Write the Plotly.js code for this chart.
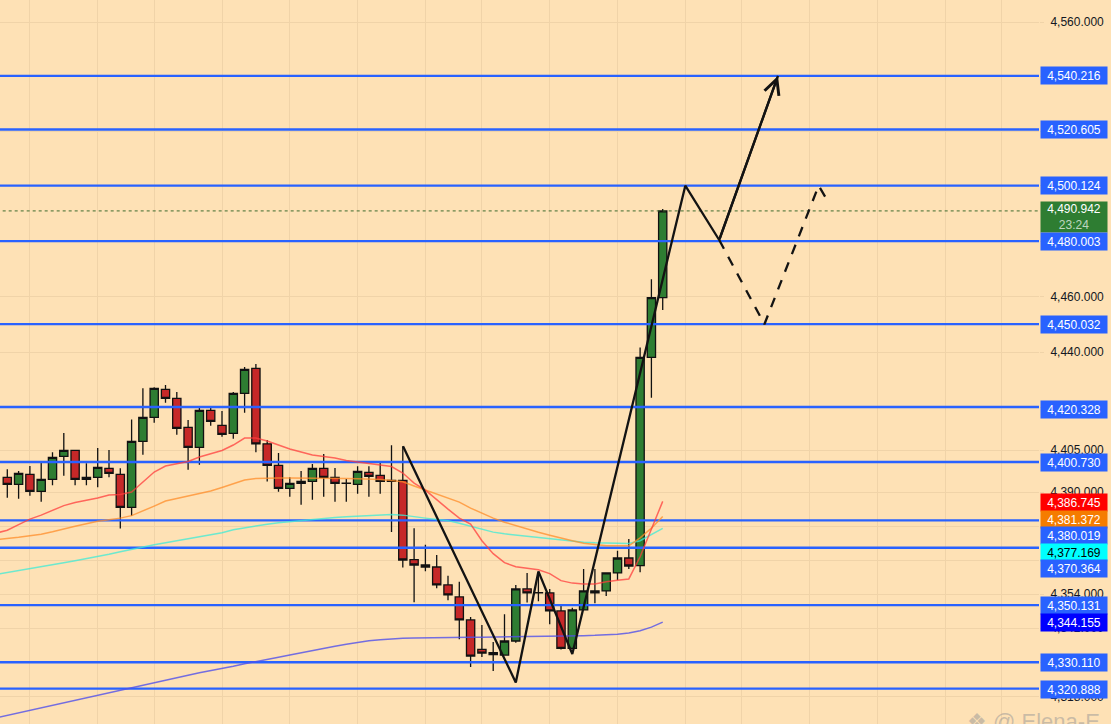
<!DOCTYPE html>
<html><head><meta charset="utf-8">
<script src="https://cdn.plot.ly/plotly-3.0.1.min.js"></script>
<style>html,body{margin:0;padding:0;background:#FEE1B5;}#chart{width:1111px;height:724px;}</style>
</head><body><div id="chart"></div>
<script>
// ---- candles (index 0..58) ----
const openP  = [4395.29,4392.80,4396.36,4390.31,4394.58,4402.76,4404.89,4394.58,4395.29,4398.49,
                4396.36,4384.62,4408.08,4416.65,4426.65,4423.44,4413.08,4405.93,4419.15,4413.79,
                4410.94,4425.22,4434.15,4407.20,4399.56,4391.38,4393.16,4393.87,4398.49,4395.29,
                4393.20,4392.80,4397.07,4396.00,4394.22,4394.22,4366.13,4364.26,4363.56,4357.23,
                4353.01,4344.93,4334.59,4333.43,4332.62,4337.54,4355.83,4354.50,4354.42,4348.09,
                4334.94,4348.44,4354.42,4355.12,4361.45,4366.73,4364.02,4438.08,4459.62];
const highP  = [4398.13,4397.53,4399.31,4401.09,4404.18,4411.04,4405.00,4400.27,4405.71,4405.00,
                4398.49,4415.91,4427.01,4427.37,4428.19,4425.69,4415.69,4420.08,4420.58,4418.90,
                4425.69,4434.62,4435.69,4408.55,4403.93,4395.29,4397.53,4400.02,4403.57,4398.60,
                4394.68,4399.20,4399.20,4400.62,4406.67,4406.31,4377.27,4371.40,4367.78,4360.50,
                4358.39,4345.98,4343.17,4337.19,4346.90,4357.23,4361.45,4361.21,4355.83,4350.20,
                4349.25,4362.86,4362.86,4361.56,4369.29,4373.41,4441.66,4466.24,4491.60];
const lowP   = [4388.04,4387.68,4388.75,4386.61,4392.44,4395.86,4392.44,4392.44,4391.73,4395.29,
                4377.15,4381.63,4403.29,4414.72,4421.87,4410.44,4397.99,4399.77,4413.65,4409.72,
                4409.01,4418.29,4404.18,4393.80,4390.17,4388.39,4385.55,4387.32,4388.39,4386.61,
                4386.61,4389.46,4388.39,4389.46,4375.94,4363.42,4351.11,4362.01,4356.04,4351.82,
                4338.11,4328.40,4331.92,4326.99,4332.62,4336.94,4351.01,4351.47,4343.38,4334.59,
                4334.94,4348.44,4350.76,4353.36,4358.99,4362.86,4361.66,4423.65,4455.13];
const closeP = [4392.80,4396.71,4390.31,4394.58,4402.40,4404.89,4394.58,4395.29,4398.85,4396.71,
                4384.62,4408.09,4416.65,4427.01,4423.44,4412.72,4405.93,4419.15,4415.22,4410.58,
                4425.22,4433.80,4407.20,4399.56,4391.38,4393.16,4393.87,4398.49,4395.29,4393.16,
                4393.16,4397.42,4395.64,4393.87,4393.87,4366.02,4364.26,4363.56,4357.23,4353.72,
                4344.93,4332.27,4333.32,4332.73,4337.54,4355.83,4354.42,4354.42,4348.09,4334.94,
                4348.44,4355.12,4355.12,4361.45,4366.73,4363.91,4438.08,4459.62,4490.942];

// ---- moving averages (index -1..58) ----
const redMA    = [4375.50,4376.55,4378.50,4380.46,4381.88,4383.66,4385.26,4386.33,4387.04,4387.93,4389.00,
                  4389.17,4390.06,4393.62,4397.17,4399.31,4400.20,4400.91,4402.51,4403.75,4404.82,
                  4406.78,4409.26,4409.26,4408.20,4406.78,4405.35,4404.29,4403.22,4402.69,4402.15,
                  4401.26,4400.73,4400.02,4399.49,4399.13,4396.82,4393.26,4390.77,4387.22,4384.02,
                  4380.82,4378.68,4372.81,4368.24,4365.07,4363.67,4363.14,4362.61,4361.21,4358.74,
                  4357.87,4357.58,4357.58,4358.39,4358.92,4359.34,4367.18,4377.26,4386.745];
const orangeMA = [4373.20,4373.51,4374.04,4374.57,4375.09,4375.97,4377.08,4377.97,4378.86,4379.75,4380.28,
                  4380.82,4381.71,4383.31,4385.08,4386.86,4387.75,4388.64,4389.53,4390.42,4391.66,
                  4392.91,4394.33,4394.86,4395.04,4395.04,4395.04,4395.04,4395.04,4395.04,4394.93,
                  4394.86,4394.76,4394.68,4394.51,4394.15,4393.72,4392.20,4390.77,4389.35,4387.93,
                  4386.51,4384.37,4382.59,4380.82,4379.39,4378.15,4377.08,4375.80,4374.74,4373.69,
                  4372.81,4371.93,4371.40,4371.05,4371.05,4371.05,4373.86,4377.26,4381.372];
const cyanMA   = [4360.90,4361.56,4362.26,4362.96,4363.49,4364.19,4365.07,4365.78,4366.48,4367.18,4368.06,
                  4368.94,4369.82,4370.70,4371.40,4372.11,4372.81,4373.51,4374.21,4374.92,4375.62,
                  4376.73,4377.44,4378.15,4378.68,4379.22,4379.64,4380.03,4380.39,4380.71,4381.07,
                  4381.35,4381.60,4381.81,4381.95,4382.13,4381.88,4381.46,4380.82,4380.35,4379.93,
                  4379.04,4377.97,4376.90,4375.87,4375.27,4374.81,4374.57,4374.04,4373.51,4372.98,
                  4372.63,4372.28,4372.11,4372.00,4371.93,4371.86,4372.81,4374.92,4377.169];
const blueMA   = [4310.70,4311.59,4312.46,4313.33,4314.21,4315.08,4315.96,4316.83,4317.70,4318.58,4319.45,
                  4320.32,4321.20,4322.07,4322.95,4323.82,4324.69,4325.57,4326.44,4327.14,4328.01,
                  4328.71,4329.59,4330.28,4331.16,4331.86,4332.63,4333.43,4334.30,4335.07,4335.70,
                  4336.40,4337.10,4337.65,4338.00,4338.35,4338.46,4338.60,4338.70,4338.77,4338.81,
                  4338.84,4338.84,4338.84,4338.88,4338.88,4338.91,4338.98,4339.05,4339.12,4339.19,
                  4339.30,4339.41,4339.51,4339.65,4339.93,4340.36,4341.16,4342.39,4344.155];

// ---- horizontal levels ----
const levels = [4540.216,4520.605,4500.124,4480.003,4450.032,4420.328,4400.730,4380.019,4370.364,4350.131,4330.110,4320.888];

// ---- drawn projection path ----
const pathX = [35.02,45.0,47.0,50.0,60.0,63.0,68.2];
const pathY = [4406.3,4323.0,4362.0,4333.0,4500.1,4480.4,4540.2];
const dashX = [63.0,67.0,71.8,72.45];
const dashY = [4480.4,4450.0,4500.1,4495.6];

// ---- price scale (labels hidden behind price boxes are left blank) ----
const tickVals = [4318,4330,4342,4354,4366,4378,4390,4405,4420,4440,4460,4480,4500,4520,4540,4560];
const tickText = ["4,318.000","","4,342.000","4,354.000","","","4,390.000","4,405.000",
                  "","4,440.000","4,460.000","","","","","4,560.000"];
const gridX = [2,8,13,19,25,31,37,42,48,54,60,65,71,77,83,88];

// ---- price labels ----
const labelVals  = [4540.216,4520.605,4500.124,4490.942,4480.003,4450.032,4420.328,4400.730,
                    4386.745,4381.372,4380.019,4377.169,4370.364,4350.131,4344.155,4330.110,4320.888];
const labelText  = ["4,540.216","4,520.605","4,500.124","4,490.942<br><span style='color:rgba(255,255,255,0.7)'>23:24</span>","4,480.003",
                    "4,450.032","4,420.328","4,400.730","4,386.745","4,381.372","4,380.019","4,377.169",
                    "4,370.364","4,350.131","4,344.155","4,330.110","4,320.888"];
const labelBg    = ["#2962FF","#2962FF","#2962FF","#2E7D32","#2962FF","#2962FF","#2962FF","#2962FF",
                    "#FF0000","#F57C00","#2962FF","#00FFFF","#2962FF","#2962FF","#0000FF","#2962FF","#2962FF"];
const labelFg    = ["#fff","#fff","#fff","#fff","#fff","#fff","#fff","#fff","#fff","#fff","#fff","#000","#fff","#fff","#fff","#fff","#fff"];
const labelShift = [0,0,0,-5.6,0,0,-2,0,-1,-2.6,-14.7,-24,-20.7,-0.5,0,0,-1];
const labelTall  = [0,0,0,1,0,0,0,0,0,0,0,0,0,0,0,0,0];

const BG = "#FEE1B5", GRID = "#F0D3A8", FONT = "Liberation Sans, Arial, sans-serif";
const candleX = closeP.map((_, i) => i);
const maX = redMA.map((_, i) => i - 1);

const lvX = [], lvY = [];
levels.forEach(v => { lvX.push(-2, 95, null); lvY.push(v, v, null); });

const traces = [
  {type:"scatter", mode:"lines", x:lvX, y:lvY, line:{color:"#2962FF", width:2.4}, hoverinfo:"skip"},
  {type:"scatter", mode:"lines", x:[-2,95], y:[closeP[closeP.length-1], closeP[closeP.length-1]],
   line:{color:"#3E6B2E", width:1, dash:"dot"}, hoverinfo:"skip"},
  {type:"scatter", mode:"lines", x:maX, y:blueMA, line:{color:"rgba(80,80,235,0.8)", width:1.5}, hoverinfo:"skip"},
  {type:"scatter", mode:"lines", x:maX, y:cyanMA, line:{color:"rgba(60,235,215,0.75)", width:1.5}, hoverinfo:"skip"},
  {type:"scatter", mode:"lines", x:maX, y:orangeMA, line:{color:"rgba(255,140,40,0.75)", width:1.5}, hoverinfo:"skip"},
  {type:"scatter", mode:"lines", x:maX, y:redMA, line:{color:"rgba(255,60,60,0.75)", width:1.5}, hoverinfo:"skip"},
  {type:"scatter", mode:"lines", x:pathX, y:pathY, line:{color:"#131313", width:2.3}, hoverinfo:"skip"},
  {type:"scatter", mode:"lines", x:dashX, y:dashY, line:{color:"#131313", width:2.3, dash:"10px,9px"}, hoverinfo:"skip"},
  {type:"candlestick", x:candleX, open:openP, high:highP, low:lowP, close:closeP,
   increasing:{line:{color:"#111", width:1.3}, fillcolor:"#2E7D32"},
   decreasing:{line:{color:"#111", width:1.3}, fillcolor:"#C62828"},
   whiskerwidth:0, hoverinfo:"skip"}
];

const annotations = labelVals.map((v, i) => ({
  xref:"paper", x:1, xanchor:"left", xshift:1,
  yref:"y", y:Math.log10(v), yanchor:"middle", yshift:labelShift[i],
  text:labelText[i], showarrow:false, bgcolor:labelBg[i],
  font:{color:labelFg[i], size:12, family:FONT},
  width:62, height: labelTall[i] ? 26 : 13, borderpad:2, align:"center", valign:"middle"
}));
annotations.push({
  xref:"x", yref:"y", x:pathX[6], y:Math.log10(pathY[6]), axref:"x", ayref:"y",
  ax:pathX[5], ay:Math.log10(pathY[5]), text:"", showarrow:true,
  arrowhead:5, arrowsize:1.3, arrowwidth:2.3, arrowcolor:"#131313", standoff:0
});
annotations.push({
  xref:"paper", yref:"paper", x:965/1039, y:0, xanchor:"left", yanchor:"middle", yshift:3,
  text:"❖ @ Elena-E", showarrow:false, font:{size:22, color:"rgba(150,150,150,0.5)", family:FONT}
});

const layout = {
  width:1111, height:724, margin:{l:0, r:72, t:0, b:0},
  paper_bgcolor:BG, plot_bgcolor:BG, showlegend:false, hovermode:false,
  boxgap:0.27, boxgroupgap:0,
  font:{family:FONT, color:"#131722", size:12},
  xaxis:{range:[-0.646, 91.3], tickvals:gridX, showticklabels:false, showgrid:true, gridcolor:GRID, gridwidth:1,
         zeroline:false, showline:false, ticks:"", rangeslider:{visible:false}, fixedrange:true},
  yaxis:{type:"log", side:"right", range:[3.634330, 3.659740], tickvals:tickVals, ticktext:tickText,
         showgrid:true, gridcolor:GRID, gridwidth:1, zeroline:false, showline:false,
         ticks:"outside", ticklen:4, tickcolor:GRID, ticklabelstandoff:4,
         tickfont:{size:12, color:"#131722", family:FONT}, fixedrange:true},
  annotations:annotations
};

Plotly.newPlot("chart", traces, layout, {displayModeBar:false, staticPlot:true});
</script></body></html>
